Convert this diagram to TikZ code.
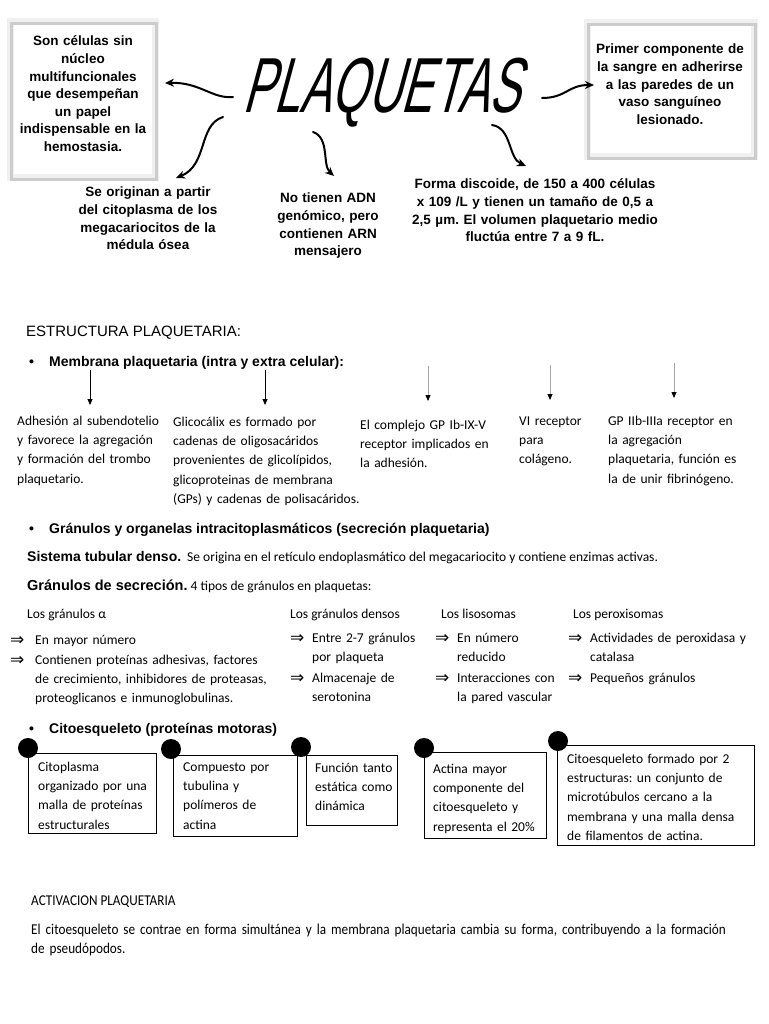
\documentclass[tikz,border=0pt]{standalone}
\usepackage{fontspec}
\setmainfont{Carlito}
\newfontfamily\arial{Liberation Sans}
\newfontfamily\dejavu{DejaVu Sans}
\newfontfamily\titlef[FakeStretch=0.6,FakeSlant=0.27]{Liberation Sans}
\newfontfamily\condf[FakeStretch=0.88]{Carlito}
\usetikzlibrary{arrows.meta,calc}
\frenchspacing
\begin{document}
\begin{tikzpicture}[x=1pt,y=-1pt,
  topglow/.style={draw=gray!12, line width=7pt},
  topframe/.style={draw=gray!40, line width=3pt, anchor=north west, inner sep=0pt},
  toptext/.style={font=\arial\bfseries\fontsize{13.5}{17.6}\selectfont, align=center, text width=300pt, inner sep=0pt, anchor=base},
  body/.style={font=\fontsize{13.5}{19.4}\selectfont, align=left, text width=300pt, inner sep=0pt, anchor=base west},
  head/.style={font=\arial\bfseries\fontsize{14}{17}\selectfont, inner sep=0pt, anchor=base west},
  curvy/.style={line width=2pt, line cap=round, -{Stealth[length=9pt,width=8pt]}},
  downarr/.style={line width=0.8pt, -{Triangle[length=6pt,width=5pt]}},
  downgray/.style={draw=gray!70, line width=0.8pt, -{Triangle[length=6pt,width=5pt,color=black]}},
  cbox/.style={draw, line width=0.8pt, inner sep=0pt, anchor=north west},
  dot/.style={circle, fill=black, minimum size=20pt, inner sep=0pt},
  imp/.style={font=\fontsize{13.5}{19.4}\selectfont, inner sep=0pt, anchor=base west},
  implies/.style={font=\dejavu\fontsize{17}{17}\selectfont, inner sep=0pt, anchor=base west},
]
\useasboundingbox[fill=white] (0,0) rectangle (768,1024);

% ---------- top boxes ----------
\draw[topglow] (10,22) rectangle (155,178);
\node[topframe, minimum width=145pt, minimum height=156pt] (lbox) at (10,22) {};
\node[toptext] (ltext) at (83,46) {Son células sin\\núcleo\\multifuncionales\\que desempeñan\\un papel\\indispensable en la\\hemostasia.};

\draw[topglow] (587,23) rectangle (754,157);
\node[topframe, minimum width=167pt, minimum height=134pt] (rbox) at (587,23) {};
\node[toptext] (rtext) at (670,54) {Primer componente de\\la sangre en adherirse\\a las paredes de un\\vaso sanguíneo\\lesionado.};

% ---------- title ----------
\node[font=\titlef\fontsize{78}{80}\selectfont, inner sep=0pt, anchor=base] (title) at (381,113) {PLAQUETAS};

\coordinate (a1s) at (233,97);  \coordinate (a1e) at (165,83);
\coordinate (a2s) at (542,98);  \coordinate (a2e) at (594,85);
\coordinate (a3s) at (223,117); \coordinate (a3e) at (176,178);
\coordinate (a4s) at (313,132); \coordinate (a4e) at (334,176);
\coordinate (a5s) at (492,125); \coordinate (a5e) at (526,166);
\draw[curvy] (a1s) .. controls (212,99) and (200,82) .. (a1e);
\draw[curvy] (a2s) .. controls (566,98) and (568,85) .. (a2e);
\draw[curvy] (a3s) .. controls (198,125) and (208,165) .. (a3e);
\draw[curvy] (a4s) .. controls (330,138) and (322,165) .. (a4e);
\draw[curvy] (a5s) .. controls (512,128) and (508,158) .. (a5e);

\node[toptext] (t1) at (148,197) {Se originan a partir\\del citoplasma de los\\megacariocitos de la\\médula ósea};
\node[toptext] (t2) at (328,203) {No tienen ADN\\genómico, pero\\contienen ARN\\mensajero};
\node[toptext] (t3) at (535,189) {Forma discoide, de 150 a 400 células\\x 109 /L y tienen un tamaño de 0,5 a\\2,5 µm. El volumen plaquetario medio\\fluctúa entre 7 a 9 fL.};

% ---------- estructura ----------
\node[font=\arial\fontsize{15}{18}\selectfont, inner sep=0pt, anchor=base west] (estr) at (26,336) {ESTRUCTURA PLAQUETARIA:};
\node[head] (b1) at (29,366) {•};
\node[head] (memb) at (49,366) {Membrana plaquetaria (intra y extra celular):};

\node[body] (m1) at (17,425) {Adhesión al subendotelio\\y favorece la agregación\\y formación del trombo\\plaquetario.};
\node[body] (m2) at (173,426) {Glicocálix es formado por\\cadenas de oligosacáridos\\provenientes de glicolípidos,\\glicoproteinas de membrana\\(GPs) y cadenas de polisacáridos.};
\node[body] (m3) at (360,429) {El complejo GP Ib-IX-V\\receptor implicados en\\la adhesión.};
\node[body] (m4) at (519,425) {VI receptor\\para\\colágeno.};
\node[body] (m5) at (608,425) {GP IIb-IIIa receptor en\\la agregación\\plaquetaria, función es\\la de unir fibrinógeno.};

\coordinate (d1) at (90,370);  \coordinate (e1) at (90,405);
\coordinate (d2) at (265,370); \coordinate (e2) at (265,405);
\coordinate (d3) at (428,366); \coordinate (e3) at (428,401);
\coordinate (d4) at (550,365); \coordinate (e4) at (550,400);
\coordinate (d5) at (674,363); \coordinate (e5) at (674,398);
\draw[downarr] (d1) -- (e1);
\draw[downarr] (d2) -- (e2);
\draw[downgray] (d3) -- (e3);
\draw[downgray] (d4) -- (e4);
\draw[downgray] (d5) -- (e5);

% ---------- granulos ----------
\node[head] (b2) at (29,533) {•};
\node[head] (gran) at (49,533) {Gránulos y organelas intracitoplasmáticos (secreción plaquetaria)};
\node[imp] (sist) at (27,561) {{\arial\bfseries\fontsize{14}{17}\selectfont Sistema tubular denso.}\hspace{6pt}Se origina en el retículo endoplasmático del megacariocito y contiene enzimas activas.};
\node[imp] (gsec) at (27,590) {{\arial\bfseries\fontsize{14.5}{17}\selectfont Gránulos de secreción.} 4 tipos de gránulos en plaquetas:};

\node[imp] (h1) at (27,618) {Los gránulos α};
\node[imp] (h2) at (290,618) {Los gránulos densos};
\node[imp] (h3) at (441,618) {Los lisosomas};
\node[imp] (h4) at (573,618) {Los peroxisomas};

\node[implies] (i1a) at (10,645.5) {⇒};
\node[body] (i1) at (35,644) {En mayor número};
\node[implies] (i2a) at (10,665.5) {⇒};
\node[body] (i2) at (35,664) {Contienen proteínas adhesivas, factores\\de crecimiento, inhibidores de proteasas,\\proteoglicanos e inmunoglobulinas.};

\node[implies] (j1a) at (290,643.5) {⇒};
\node[body] (j1) at (312,642) {Entre 2-7 gránulos\\por plaqueta};
\node[implies] (j2a) at (290,683.5) {⇒};
\node[body] (j2) at (312,682) {Almacenaje de\\serotonina};

\node[implies] (k1a) at (435,643.5) {⇒};
\node[body] (k1) at (457,642) {En número\\reducido};
\node[implies] (k2a) at (435,683.5) {⇒};
\node[body] (k2) at (457,682) {Interacciones con\\la pared vascular};

\node[implies] (l1a) at (568,643.5) {⇒};
\node[body] (l1) at (590,642) {Actividades de peroxidasa y\\catalasa};
\node[implies] (l2a) at (568,683.5) {⇒};
\node[body] (l2) at (590,682) {Pequeños gránulos};

% ---------- citoesqueleto ----------
\node[head] (b3) at (29,733) {•};
\node[head] (cito) at (49,733) {Citoesqueleto (proteínas motoras)};

\node[cbox, minimum width=128pt, minimum height=80pt] (c1) at (28,753) {};
\node[cbox, minimum width=124pt, minimum height=81pt] (c2) at (173,755) {};
\node[cbox, minimum width=91pt, minimum height=70pt] (c3) at (306,755) {};
\node[cbox, minimum width=122pt, minimum height=86pt] (c4) at (424,752) {};
\node[cbox, minimum width=197pt, minimum height=100pt] (c5) at (557,745) {};

\node[body] (ct1) at (38,771) {Citoplasma\\organizado por una\\malla de proteínas\\estructurales};
\node[body] (ct2) at (183,771) {Compuesto por\\tubulina y\\polímeros de\\actina};
\node[body] (ct3) at (315,772) {Función tanto\\estática como\\dinámica};
\node[body] (ct4) at (433,773) {Actina mayor\\componente del\\citoesqueleto y\\representa el 20\%};
\node[body] (ct5) at (567,763) {Citoesqueleto formado por 2\\estructuras: un conjunto de\\microtúbulos cercano a la\\membrana y una malla densa\\de filamentos de actina.};

\node[dot] (o1) at (28,748) {};
\node[dot] (o2) at (171,749) {};
\node[dot] (o3) at (301,747) {};
\node[dot] (o4) at (424,748) {};
\node[dot] (o5) at (558,741) {};

% ---------- activacion ----------
\node[font=\condf\fontsize{15}{17}\selectfont, inner sep=0pt, anchor=base west] (act) at (31,905) {ACTIVACION PLAQUETARIA};
\node[font=\condf\fontsize{15}{19.5}\selectfont, align=left, text width=740pt, inner sep=0pt, anchor=base west] (acttx) at (31,934) {El citoesqueleto se contrae en forma simultánea y la membrana plaquetaria cambia su forma, contribuyendo a la formación\\de pseudópodos.};
\end{tikzpicture}
\end{document}
